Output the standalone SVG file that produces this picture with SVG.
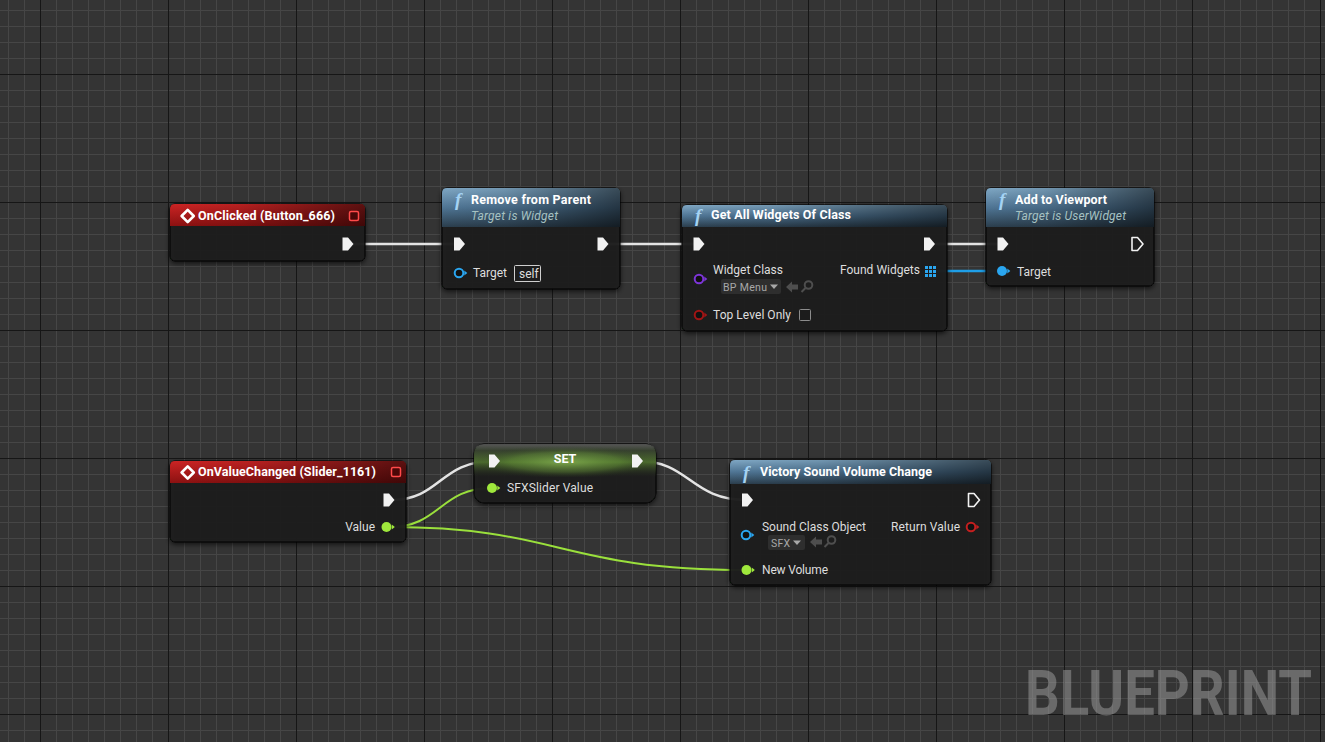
<svg xmlns="http://www.w3.org/2000/svg" width="1325" height="742" viewBox="0 0 1325 742">
<defs>
<style>
.body{fill:#1b1c1b;fill-opacity:.92;stroke:#070707;stroke-width:1}
.title{font-family:Roboto,"Liberation Sans",sans-serif;font-weight:bold;font-size:12.5px;fill:#ffffff}
.sub{font-family:Roboto,"Liberation Sans",sans-serif;font-style:italic;font-size:12px;fill:#a6c2c2}
.lbl{font-family:Roboto,"Liberation Sans",sans-serif;font-size:12px;fill:#dedede}
.dd{font-family:Roboto,"Liberation Sans",sans-serif;font-size:10.5px;fill:#a8a8a8}
.ficon{font-family:"Liberation Serif",serif;font-style:italic;font-weight:bold;font-size:19px;fill:#a4d3f4}
.exf{fill:#f2f2f2}
.exo{fill:none;stroke:#f2f2f2;stroke-width:1.6;stroke-linejoin:round}
.wx{fill:none;stroke:#e4e4e4;stroke-width:2.5}
.wb{fill:none;stroke:#1f9fe8;stroke-width:2.5}
.wg{fill:none;stroke:#9ae03c;stroke-width:2}
.diamond{fill:none;stroke:#ffffff;stroke-width:2.6;stroke-linejoin:round}
.evsq{fill:#4a0707;stroke:#ff4a4a;stroke-width:1.5}
.ring{fill:#111111;stroke-width:2}
.icon{fill:#4e4e4e}
.iconS{fill:none;stroke:#4e4e4e;stroke-width:2}
</style>
<pattern id="minor" patternUnits="userSpaceOnUse" x="8" y="10" width="16" height="16"><rect width="1" height="16" fill="#464646"/><rect width="16" height="1" fill="#464646"/></pattern>
<pattern id="major" patternUnits="userSpaceOnUse" x="40" y="74" width="128" height="128"><rect width="1" height="128" fill="#161616"/><rect width="128" height="1" fill="#161616"/></pattern>
<linearGradient id="hBlue" x1="0" y1="0" x2="0" y2="1"><stop offset="0" stop-color="#7fa7c4"/><stop offset="0.5" stop-color="#4f7594"/><stop offset="1" stop-color="#2b3e4d"/></linearGradient>
<linearGradient id="hRed" x1="0" y1="0" x2="0" y2="1"><stop offset="0" stop-color="#cc2424"/><stop offset="1" stop-color="#8c1111"/></linearGradient>
<linearGradient id="hShade" x1="0" y1="0" x2="1" y2="0"><stop offset="0" stop-color="#000" stop-opacity="0"/><stop offset="0.35" stop-color="#000" stop-opacity="0.1"/><stop offset="1" stop-color="#000" stop-opacity="0.55"/></linearGradient>
<linearGradient id="setV" x1="0" y1="0" x2="0" y2="1"><stop offset="0" stop-color="#6e6e6e" stop-opacity="0.7"/><stop offset="0.2" stop-color="#3d4a33" stop-opacity="0.8"/><stop offset="0.55" stop-color="#587f32" stop-opacity="0.8"/><stop offset="1" stop-color="#2a3520" stop-opacity="0"/></linearGradient>
<radialGradient id="setGlow" cx="0.5" cy="0.55" r="0.5"><stop offset="0" stop-color="#8fbd58" stop-opacity="0.7"/><stop offset="0.6" stop-color="#6a9a3a" stop-opacity="0.35"/><stop offset="1" stop-color="#22301a" stop-opacity="0"/></radialGradient>
<filter id="sh" x="-10%" y="-15%" width="120%" height="140%"><feDropShadow dx="0" dy="2" stdDeviation="2.5" flood-color="#000" flood-opacity="0.7"/></filter>
<path id="exec" d="M-5.5,-6.5 H0 L5.5,0 L0,6.5 H-5.5 Z"/>
<circle id="pinDot" r="5"/>
<circle id="pinRing" r="4.3"/>
<path id="pinTip" d="M5.3,-2.6 L8.3,0 L5.3,2.6 Z"/>
</defs>

<rect width="1325" height="742" fill="#343434"/>
<rect width="1325" height="742" fill="url(#minor)"/>
<rect width="1325" height="742" fill="url(#major)"/>
<text transform="translate(1025,715) scale(1,1.135)" x="0" y="0" font-family="Roboto,'Liberation Sans',sans-serif" font-weight="bold" font-size="55.5" fill="#a0a0a0" fill-opacity="0.5" textLength="287" lengthAdjust="spacingAndGlyphs">BLUEPRINT</text>

<g id="connectors">
<path class="wx" d="M350,244 H458"/>
<path class="wx" d="M606,244 H697"/>
<path class="wx" d="M932,244 H1001"/>
<path class="wb" d="M933,271 H1001"/>
<path class="wx" d="M392,500 C440,500 440,461 494,461"/>
<path class="wx" d="M638,461 C690,461 690,500 747,500"/>
<path class="wg" d="M390,527 C440,527 440,488 492,488"/>
<path class="wg" d="M390,527 C560,527 560,570 746,570"/>
</g>

<g id="node-onclicked">
<rect class="body" filter="url(#sh)" x="170" y="204" width="195" height="57" rx="5"/>
<path fill="url(#hRed)" d="M170,226 V209 Q170,204 175,204 H360 Q365,204 365,209 V226 Z"/>
<path fill="url(#hShade)" d="M170,226 V209 Q170,204 175,204 H360 Q365,204 365,209 V226 Z"/>
<path class="diamond" d="M181.6,216 L187.7,209.9 L193.8,216 L187.7,222.1 Z"/>
<text class="title" x="198" y="220" textLength="137">OnClicked (Button_666)</text>
<rect class="evsq" x="349.5" y="211.5" width="9" height="9" rx="1.5"/>
<use href="#exec" x="348" y="244" class="exf"/>
</g>

<g id="node-remove">
<rect class="body" filter="url(#sh)" x="442" y="188" width="178" height="101" rx="5"/>
<path fill="url(#hBlue)" d="M442,227 V193 Q442,188 447,188 H615 Q620,188 620,193 V227 Z"/>
<path fill="url(#hShade)" d="M442,227 V193 Q442,188 447,188 H615 Q620,188 620,193 V227 Z"/>
<text class="ficon" x="455" y="206">f</text>
<text class="title" x="471" y="203.5" textLength="120">Remove from Parent</text>
<text class="sub" x="471" y="220" textLength="87">Target is Widget</text>
<use href="#exec" x="459.5" y="244" class="exf"/>
<use href="#exec" x="603" y="244" class="exf"/>
<g transform="translate(459,273)" stroke="#2aa6f0" fill="#2aa6f0"><use href="#pinRing" class="ring"/><use href="#pinTip" stroke="none"/></g>
<text class="lbl" x="473" y="277">Target</text>
<rect x="514.5" y="265.5" width="26" height="16" fill="none" stroke="#cfcfcf" stroke-width="1" rx="1"/>
<text class="lbl" x="519" y="277.5" fill="#eaeaea">self</text>
</g>

<g id="node-getall">
<rect class="body" filter="url(#sh)" x="682" y="205" width="265" height="126" rx="5"/>
<path fill="url(#hBlue)" d="M682,227 V210 Q682,205 687,205 H942 Q947,205 947,210 V227 Z"/>
<path fill="url(#hShade)" d="M682,227 V210 Q682,205 687,205 H942 Q947,205 947,210 V227 Z"/>
<text class="ficon" x="695" y="222">f</text>
<text class="title" x="711" y="219" textLength="140">Get All Widgets Of Class</text>
<use href="#exec" x="699" y="244" class="exf"/>
<use href="#exec" x="929.5" y="244" class="exf"/>
<g transform="translate(699,279)" stroke="#7d35d8" fill="#7d35d8"><use href="#pinRing" class="ring"/><use href="#pinTip" stroke="none"/></g>
<text class="lbl" x="713" y="274" textLength="70">Widget Class</text>
<rect x="721" y="279" width="60" height="15" rx="2" fill="#2e2e2e"/>
<text class="dd" x="723" y="290.5" textLength="44">BP Menu</text>
<path d="M770,284.5 H778 L774,289 Z" fill="#a8a8a8"/>
<path class="icon" d="M786,287 L792,281.5 V284.5 H798 V289.5 H792 V292.5 Z"/>
<circle class="iconS" cx="808.5" cy="285" r="3.8"/>
<path class="iconS" d="M805.5,288 L801.5,292"/>
<text class="lbl" x="920" y="274" text-anchor="end" textLength="80">Found Widgets</text>
<g fill="#2aa6f0">
<rect x="925" y="266" width="3" height="3"/><rect x="929" y="266" width="3" height="3"/><rect x="933" y="266" width="3" height="3"/>
<rect x="925" y="270" width="3" height="3"/><rect x="929" y="270" width="3" height="3"/><rect x="933" y="270" width="3" height="3"/>
<rect x="925" y="274" width="3" height="3"/><rect x="929" y="274" width="3" height="3"/><rect x="933" y="274" width="3" height="3"/>
</g>
<g transform="translate(699,315)" stroke="#a11515" fill="#a11515"><use href="#pinRing" class="ring"/><use href="#pinTip" stroke="none"/></g>
<text class="lbl" x="713" y="319" textLength="78">Top Level Only</text>
<rect x="799.5" y="309.5" width="11" height="11" rx="1" fill="#1c1c1c" stroke="#8c8c8c" stroke-width="1"/>
</g>

<g id="node-addviewport">
<rect class="body" filter="url(#sh)" x="986" y="188" width="168" height="98" rx="5"/>
<path fill="url(#hBlue)" d="M986,227 V193 Q986,188 991,188 H1149 Q1154,188 1154,193 V227 Z"/>
<path fill="url(#hShade)" d="M986,227 V193 Q986,188 991,188 H1149 Q1154,188 1154,193 V227 Z"/>
<text class="ficon" x="999" y="206">f</text>
<text class="title" x="1015" y="203.5" textLength="92">Add to Viewport</text>
<text class="sub" x="1015" y="220" textLength="111">Target is UserWidget</text>
<use href="#exec" x="1003" y="244" class="exf"/>
<use href="#exec" x="1137.5" y="244" class="exo"/>
<g transform="translate(1002,271)" fill="#2aa6f0"><use href="#pinDot"/><use href="#pinTip"/></g>
<text class="lbl" x="1017" y="275.5">Target</text>
</g>

<g id="node-onvaluechanged">
<rect class="body" filter="url(#sh)" x="170" y="461" width="236" height="81" rx="5"/>
<path fill="url(#hRed)" d="M170,483 V466 Q170,461 175,461 H401 Q406,461 406,466 V483 Z"/>
<path fill="url(#hShade)" d="M170,483 V466 Q170,461 175,461 H401 Q406,461 406,466 V483 Z"/>
<path class="diamond" d="M181.6,472.5 L187.7,466.4 L193.8,472.5 L187.7,478.6 Z"/>
<text class="title" x="198" y="476" textLength="178">OnValueChanged (Slider_1161)</text>
<rect class="evsq" x="391.5" y="467.5" width="9" height="9" rx="1.5"/>
<use href="#exec" x="389" y="500" class="exf"/>
<text class="lbl" x="375" y="531" text-anchor="end">Value</text>
<g transform="translate(386.5,527)" fill="#9fe83c"><use href="#pinDot"/><use href="#pinTip"/></g>
</g>

<g id="node-set">
<rect class="body" filter="url(#sh)" x="474" y="444" width="182" height="59" rx="10"/>
<path fill="url(#setV)" d="M474,477 V454 Q474,444 484,444 H646 Q656,444 656,454 V477 Z"/>
<path fill="url(#setGlow)" d="M474,477 V454 Q474,444 484,444 H646 Q656,444 656,454 V477 Z"/>
<text class="title" x="565" y="463" text-anchor="middle" font-size="12">SET</text>
<use href="#exec" x="494.5" y="461" class="exf"/>
<use href="#exec" x="637.5" y="461" class="exf"/>
<g transform="translate(492,488)" fill="#9fe83c"><use href="#pinDot"/><use href="#pinTip"/></g>
<text class="lbl" x="507" y="492" textLength="86">SFXSlider Value</text>
</g>

<g id="node-victory">
<rect class="body" filter="url(#sh)" x="730" y="460" width="261" height="125" rx="5"/>
<path fill="url(#hBlue)" d="M730,484 V465 Q730,460 735,460 H986 Q991,460 991,465 V484 Z"/>
<path fill="url(#hShade)" d="M730,484 V465 Q730,460 735,460 H986 Q991,460 991,465 V484 Z"/>
<text class="ficon" x="743" y="479">f</text>
<text class="title" x="760" y="476" textLength="172">Victory Sound Volume Change</text>
<use href="#exec" x="747.5" y="500" class="exf"/>
<use href="#exec" x="974" y="500" class="exo"/>
<g transform="translate(746,535)" stroke="#2aa6f0" fill="#2aa6f0"><use href="#pinRing" class="ring"/><use href="#pinTip" stroke="none"/></g>
<text class="lbl" x="762" y="531" textLength="104">Sound Class Object</text>
<rect x="768" y="535" width="37" height="15" rx="2" fill="#2e2e2e"/>
<text class="dd" x="771" y="546.5" textLength="19">SFX</text>
<path d="M793,540.5 H801 L797,545 Z" fill="#a8a8a8"/>
<path class="icon" d="M810,542 L816,536.5 V539.5 H822 V544.5 H816 V547.5 Z"/>
<circle class="iconS" cx="831.5" cy="540" r="3.8"/>
<path class="iconS" d="M828.5,543 L824.5,547"/>
<text class="lbl" x="960" y="531" text-anchor="end" textLength="69">Return Value</text>
<g transform="translate(971,527)" stroke="#c41f1f" fill="#c41f1f"><use href="#pinRing" class="ring"/><use href="#pinTip" stroke="none"/></g>
<g transform="translate(746.5,570)" fill="#9fe83c"><use href="#pinDot"/><use href="#pinTip"/></g>
<text class="lbl" x="762" y="574" textLength="66">New Volume</text>
</g>
</svg>
